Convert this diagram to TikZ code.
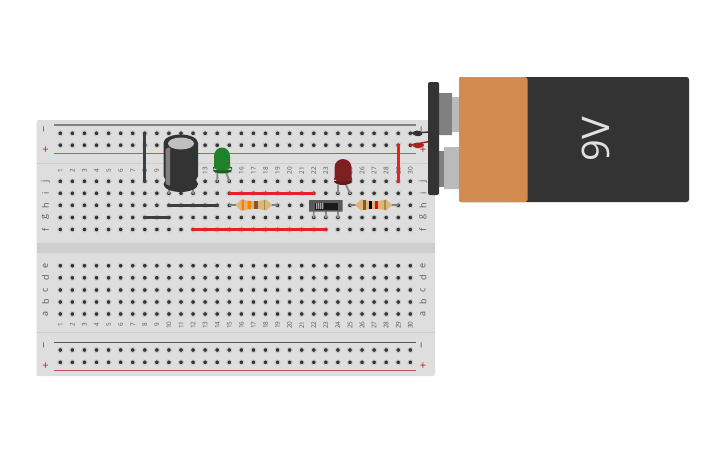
\documentclass[tikz,border=0pt]{standalone}
\usepackage{fontspec}
\setmainfont{Open Sans}
\definecolor{board}{HTML}{DEDEDE}
\definecolor{band}{HTML}{CFCFCF}
\definecolor{ink}{HTML}{555555}
\definecolor{railred}{HTML}{C25555}
\definecolor{plusred}{HTML}{B01F1F}
\definecolor{wirered}{HTML}{E8202A}
\definecolor{wiredark}{HTML}{3A3F44}
\definecolor{batdark}{HTML}{333333}
\definecolor{batorange}{HTML}{D28C50}
\definecolor{ledgreen}{HTML}{21812A}
\definecolor{ledred}{HTML}{7F1F22}
\definecolor{restan}{HTML}{DDB67C}
\begin{document}
\begin{tikzpicture}[x=1pt,y=-1pt,line cap=round]
  \tikzstyle{hole}=[circle,fill=black!80,draw=black!20,line width=1pt,inner sep=0pt,minimum size=5pt]
  \tikzstyle{lbl}=[text=ink,font=\fontsize{6.4}{6.4}\selectfont,rotate=90,inner sep=0pt]
  \tikzstyle{sign}=[inner sep=0pt,font=\fontsize{11}{11}\selectfont]
  \tikzstyle{jumpred}=[draw=wirered,line width=3.2pt]
  \tikzstyle{jumpdark}=[draw=wiredark,line width=3.2pt]
  \tikzstyle{pin}=[draw=black!45,line width=1.9pt]
  \useasboundingbox (0,0) rectangle (725,453);

  % board
  \fill[board,rounded corners=1.5pt] (36.5,120) rectangle (435,376);
  \fill[band] (36.5,243) rectangle (435,253);
  \draw[band,line width=.7pt,line cap=butt] (36.5,163.5) -- (435,163.5) (36.5,332) -- (435,332);
  \draw[black!50,line width=1.8pt,line cap=butt] (54,124.7) -- (416,124.7);
  \draw[railred,line width=1.5pt,line cap=butt] (54,153.5) -- (416,153.5);
  \draw[black!65,line width=1pt,line cap=butt] (54,342.3) -- (416,342.3);
  \draw[railred,line width=1.5pt,line cap=butt] (54,370.7) -- (416,370.7);

  % holes
  \foreach \row/\rowy in {p/133.3,q/145.2,j/181.3,i/193.3,h/205.3,g/217.5,f/229.5,e/265.7,d/277.8,c/290,b/302,a/314,m/350,n/362.3} {
    \foreach \col in {1,...,30} {
      \pgfmathsetmacro\colx{60.3+12.07*(\col-1)}
      \node [hole] (\row\col) at (\colx,\rowy) {};
    }
  }

  % numbers and letters
  \foreach \col in {1,...,30} {
    \pgfmathsetmacro\colx{60.3+12.07*(\col-1)}
    \node [lbl] (top\col) at (\colx,170.5) {\col};
    \node [lbl] (bot\col) at (\colx,325) {\col};
  }
  \foreach \row/\rowy in {j/181.3,i/193.3,h/205.3,g/217.5,f/229.5,e/265.7,d/277.8,c/290,b/302,a/314} {
    \node [lbl,font=\fontsize{9}{9}\selectfont] (left\row) at (45.5,\rowy) {\row};
    \node [lbl,font=\fontsize{9}{9}\selectfont] (right\row) at (423,\rowy) {\row};
  }
  \foreach \side/\sidex in {l/45.5,r/423} {
    \node [sign,rotate=90,text=black!70] (minA\side) at (\sidex,129.5) {−};
    \node [sign,text=plusred] (plusA\side) at (\sidex,150.6) {+};
    \node [sign,rotate=90,text=black!70] (minB\side) at (\sidex,345) {−};
    \node [sign,text=plusred] (plusB\side) at (\sidex,366.6) {+};
  }

  % jumpers
  \path [jumpdark] (p8.center) -- (j8.center);
  \path [jumpdark] (h10.center) -- (h14.center);
  \path [jumpdark] (g8.center) -- (g10.center);
  \path [jumpred] (f12.center) -- (f23.center);
  \path [jumpred] (i15.center) -- (i22.center);
  \path [jumpred] (q29.center) -- (j29.center);

  % capacitor
  \draw [pin] (169,185) -- (i10.center);
  \draw [pin] (193,185) -- (i12.center);
  \fill [batdark] (163.5,143) arc (180:360:17.25 and 8.5) -- (198,176) -- (196,180) -- (198,184)
     arc (0:180:17.25 and 8) -- (165.5,180) -- (163.5,176) -- cycle;
  \fill [black!25] (181,143.5) ellipse (13 and 6);
  \fill [black!50,rounded corners=1pt] (165.5,149) -- (170,147) -- (170,186) -- (165.5,184) -- cycle;

  % green led
  \draw [pin] (217.5,172) -- (j14.center);
  \draw [pin] (226,172) -- (j15.center);
  \fill [ledgreen!75!black] (213,167) rectangle (232,170) (222.5,170) ellipse (9.5 and 3.5);
  \fill [ledgreen] (214,167) -- (214,156) arc (180:360:8 and 8.5) -- (230,167) arc (0:180:8 and 3.5);

  % red led
  \draw [pin] (338,185) -- (i24.center);
  \draw [pin] (346,185) -- (i25.center);
  \fill [ledred!80!black] (334,178) rectangle (352,181) (343,181) ellipse (9 and 4);
  \fill [ledred] (334.5,178) -- (334.5,167.5) arc (180:360:8.5 and 8.5) -- (351.5,178) arc (0:180:8.5 and 3.5);

  % resistors
  \draw [pin,draw=black!50] (h15.center) -- (h19.center);
  \fill [restan] (235.5,205) -- (241,199.5) -- (251,201) -- (259,201) -- (266,199.5) -- (272.5,205)
     -- (266,210.5) -- (259,209) -- (251,209) -- (241,210.5) -- cycle;
  \fill [orange] (241.5,199.7) rectangle (244,210.3) (247.5,201) rectangle (251.2,209);
  \fill [brown!70!black] (254,201) rectangle (257.5,209);
  \fill [black!50!yellow!70!brown] (263.5,200) rectangle (265,210);

  \draw [pin,draw=black!50] (h25.center) -- (h29.center);
  \fill [restan] (355,205) -- (361,199.5) -- (371,201) -- (379,201) -- (386,199.5) -- (392.5,205)
     -- (386,210.5) -- (379,209) -- (371,209) -- (361,210.5) -- cycle;
  \fill [brown!70!black] (362.5,199.7) rectangle (365.5,210.3);
  \fill [black] (368.5,201) rectangle (372,209);
  \fill [red] (374.5,201) rectangle (378,209);
  \fill [black!50!yellow!70!brown] (384,200) rectangle (385.5,210);

  % switch
  \draw [pin] (313.8,210) -- (g22.center);
  \draw [pin] (325.8,210) -- (g23.center);
  \draw [pin] (338,210) -- (g24.center);
  \fill [black!65,rounded corners=.5pt] (309,200) rectangle (342.7,211.7);
  \fill [black!90] (315,202.5) rectangle (337.5,209.5);
  \fill [black!35] (315.5,203) rectangle (324,209);
  \foreach \tickx in {317,319,321,323}
    \draw [black!70,line width=.5pt,line cap=butt] (\tickx,203) -- (\tickx,209);

  % battery leads
  \coordinate (clipA) at (429,132);
  \coordinate (clipB) at (429,141.5);
  \draw [batdark,line width=1.5pt] (p30.center) -- (clipA);
  \draw [plusred,line width=1.5pt] (q30.center) -- (clipB);
  \fill [batdark,rounded corners=1.5pt] (412,133.3) -- (415,130.5) -- (421,131) -- (423,133.3) -- (421,136) -- (415,136) -- cycle;
  \fill [plusred,rounded corners=1.5pt] (412,145.2) -- (415,142.5) -- (421,143) -- (425,144.5) -- (421,148) -- (415,148) -- cycle;

  % battery
  \fill [black!50,rounded corners=.5pt] (439,93) rectangle (452,135);
  \fill [black!27] (452,97) rectangle (460,132);
  \fill [black!50] (439,151) rectangle (444,187);
  \fill [black!27,rounded corners=.5pt] (444,147) rectangle (460,189);
  \fill [batdark,rounded corners=2pt] (428,82) rectangle (439,195);
  \fill [batdark,rounded corners=2.5pt] (459,77) rectangle (689,202);
  \fill [batorange,rounded corners=2.5pt] (459,77) -- (527.5,77) -- (527.5,202) -- (459,202) -- cycle;
  \node [rotate=90,text=black!12,inner sep=0pt,font=\fontsize{38}{38}\selectfont] (volt) at (595.5,139.5) {9V};
\end{tikzpicture}
\end{document}
